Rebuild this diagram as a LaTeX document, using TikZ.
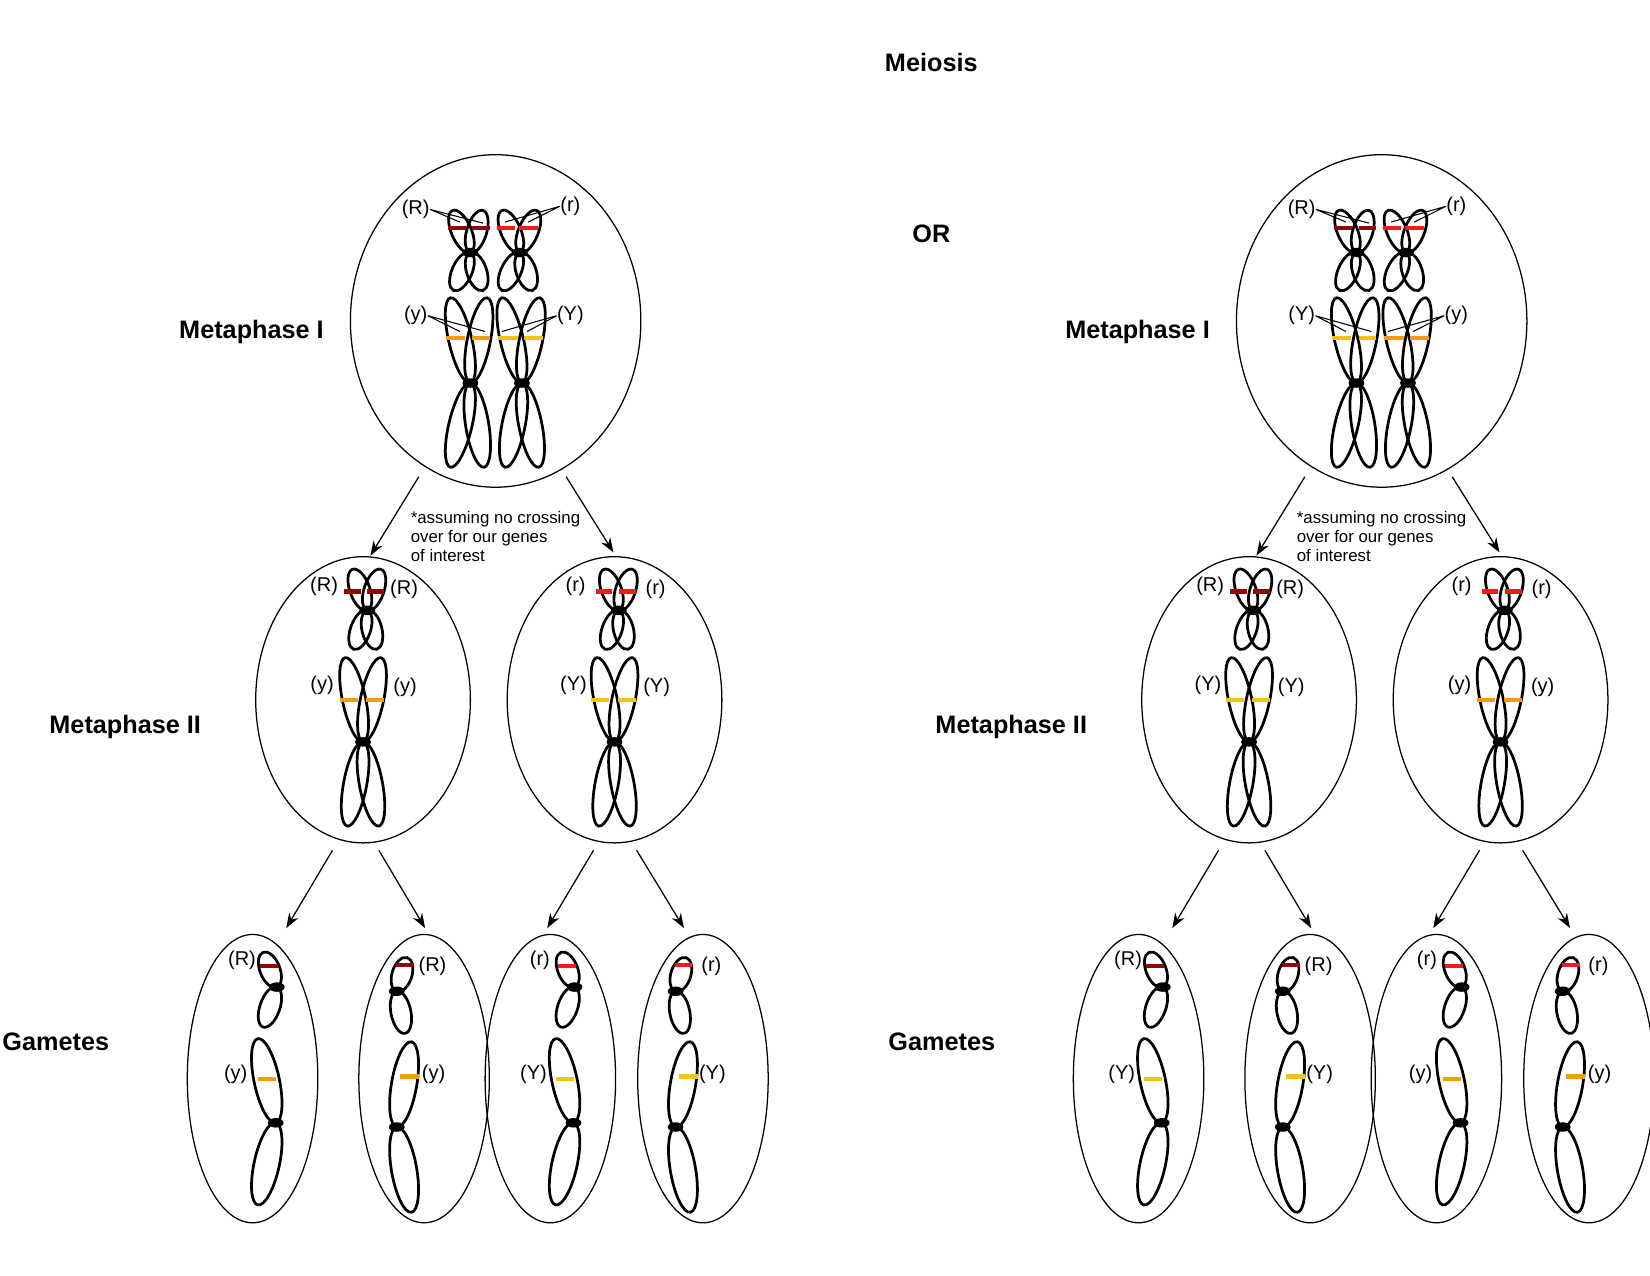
\documentclass[tikz,border=0pt]{standalone}
\usepackage{fontspec}
\setmainfont{Liberation Sans}
\usetikzlibrary{calc,shapes.geometric,arrows.meta}
\definecolor{cR}{HTML}{8B0A0A}
\definecolor{cr}{HTML}{EE1C1C}
\definecolor{cy}{HTML}{F39C12}
\definecolor{cY}{HTML}{F2C311}
\tikzset{
  chrom/.style={draw,ellipse,line width=1.3pt,inner sep=0pt},
  cell/.style={draw,ellipse,line width=0.6pt,inner sep=0pt},
  cen/.style={fill=black,ellipse,inner sep=0pt,minimum width=7.5pt,minimum height=4.5pt},
  band/.style={line width=2pt},
  lab/.style={font=\fontsize{9.5}{11}\selectfont,inner sep=0pt},
  ttl/.style={font=\fontsize{12}{14}\selectfont\bfseries},
  ptr/.style={line width=0.5pt},
  arr/.style={line width=0.6pt,-{Stealth[length=7pt,width=5pt]}},
  note/.style={font=\fontsize{8}{9.2}\selectfont,align=left,anchor=north west,inner sep=0pt}
}
\newcommand\arm[3]{\path let \p1=#1,\p2=#2,\n1={atan2(\y2-\y1,\x2-\x1)},\n2={veclen(\x2-\x1,\y2-\y1)} in ($#1!0.5!#2$) node[chrom,minimum width=\n2,minimum height=#3,rotate=\n1]{};}
% Metaphase I content
\newcommand\mone[5]{% dx, bigleftcol, biglab left, bigrightcol, biglab right
\begin{scope}[shift={(#1,0)}]
 \arm{(430,200)}{(447,240)}{9.5pt}\arm{(459,200)}{(447,240)}{9.5pt}
 \arm{(431,276)}{(447,240)}{9.5pt}\arm{(459,276)}{(447,240)}{9.5pt}
 \arm{(477,200)}{(494,240)}{9.5pt}\arm{(510,200)}{(494,240)}{9.5pt}
 \arm{(477,276)}{(494,240)}{9.5pt}\arm{(506,276)}{(494,240)}{9.5pt}
 \node[cen] at (447,240){};\node[cen] at (494,240){};
 \draw[band,cR] (426,217)--(443,217) (449,217)--(466,217);
 \draw[band,cr] (472,217)--(489,217) (493,217)--(511,217);
 \node[lab] (Rl) at (395,199){(R)};\node[lab] (rl) at (542,196){(r)};
 \draw[ptr] (Rl.east)--(437,211) (Rl.east)--(459,212);
 \draw[ptr] (rl.west)--(480,211) (rl.west)--(502,211);
 \arm{(428,283)}{(447,364)}{11pt}\arm{(463,283)}{(447,364)}{11pt}
 \arm{(428,444)}{(447,364)}{11pt}\arm{(460,444)}{(447,364)}{11pt}
 \arm{(477,283)}{(496,364)}{11pt}\arm{(513,283)}{(496,364)}{11pt}
 \arm{(480,444)}{(496,364)}{11pt}\arm{(512,444)}{(496,364)}{11pt}
 \node[cen] at (447,364){};\node[cen] at (496,364){};
 \draw[band,#2] (424,321)--(442,321) (449,321)--(466,321);
 \draw[band,#4] (473,321)--(492,321) (498,321)--(516,321);
 \node[lab] (yl) at (395,300){#3};\node[lab] (Yl) at (542,300){#5};
 \draw[ptr] (yl.east)--(437,315) (yl.east)--(461,315);
 \draw[ptr] (Yl.west)--(477,315) (Yl.west)--(501,315);
\end{scope}}
% Metaphase II content
\newcommand\mtwo[5]{% cx, small col, small lab, big col, big lab
\begin{scope}[shift={(#1,0)}]
 \arm{(-10,541)}{(4,580)}{9.5pt}\arm{(17,541)}{(4,580)}{9.5pt}
 \arm{(-9,617)}{(4,580)}{9.5pt}\arm{(13,617)}{(4,580)}{9.5pt}
 \node[cen] at (4,580){};
 \draw[band,#2] (-18,562)--(-2,562) (4,562)--(20,562);
 \node[lab] at (-37,557){#3};\node[lab] at (39,560){#3};
 \arm{(-17,625)}{(0,705)}{11pt}\arm{(17,625)}{(0,705)}{11pt}
 \arm{(-15,785)}{(0,705)}{11pt}\arm{(15,785)}{(0,705)}{11pt}
 \node[cen] at (0,705){};
 \draw[band,#4] (-22,665)--(-5,665) (3,665)--(20,665);
 \node[lab] at (-39,651){#5};\node[lab] at (40,653){#5};
\end{scope}}
\newcommand\gamA[5]{%
\begin{scope}[shift={(#1,0)}]
 \arm{(10,905)}{(23,938)}{9.5pt}\arm{(10,976)}{(23,938)}{9.5pt}
 \node[cen] at (23,938){};
 \draw[band,#2] (7,918)--(24,918);
 \node[lab] at (-10,913){#3};
 \arm{(5,987)}{(22,1067)}{12pt}\arm{(5,1145)}{(22,1067)}{12pt}
 \node[cen] at (22,1067){};
 \draw[band,#4] (5,1025)--(22,1025);
 \node[lab] at (-16,1021){#5};
\end{scope}}
\newcommand\gamB[5]{%
\begin{scope}[shift={(#1,0)}]
 \arm{(-16,910)}{(-26,942)}{9.5pt}\arm{(-18,982)}{(-26,942)}{9.5pt}
 \node[cen] at (-26,942){};
 \draw[band,#2] (-27,917)--(-10,917);
 \node[lab] at (8,918){#3};
 \arm{(-12,990)}{(-26,1071)}{12pt}\arm{(-12,1152)}{(-26,1071)}{12pt}
 \node[cen] at (-26,1071){};
 \draw[band,#4] (-23,1023)--(-5,1023);
 \node[lab] at (9,1021){#5};
\end{scope}}
\begin{document}
\begin{tikzpicture}[x=0.5pt,y=-0.5pt]
\useasboundingbox (0,0) rectangle (1568,1212);
\node[ttl] (title) at (885,59){Meiosis};
\node[ttl] (or) at (885,222){OR};
\foreach \s/\d in {L/0,R/842}{
 \begin{scope}[shift={(\d,0)}]
 \node[cell,minimum width=138pt,minimum height=158pt] (m1\s) at (471,305){};
 \node[ttl] (t1\s) at (239,315){Metaphase I};
 \node[ttl] (t2\s) at (119,691){Metaphase II};
 \node[ttl] (t3\s) at (53,990){Gametes};
 \node[note] (n\s) at (390,485){*assuming no crossing\\over for our genes\\of interest};
 \node[cell,minimum width=102pt,minimum height=136pt] (a\s) at (345,665){};
 \node[cell,minimum width=102pt,minimum height=136pt] (b\s) at (584,665){};
 \foreach \g/\x in {1/240,2/403,3/523,4/668}
   \node[cell,minimum width=62pt,minimum height=137pt] (g\s\g) at (\x,1025){};
 \coordinate (p1\s) at (398,453);\coordinate (q1\s) at (352,528);
 \coordinate (p2\s) at (538,453);\coordinate (q2\s) at (583,525);
 \coordinate (p3\s) at (316,808);\coordinate (q3\s) at (272,882);
 \coordinate (p4\s) at (360,808);\coordinate (q4\s) at (404,882);
 \coordinate (p5\s) at (564,808);\coordinate (q5\s) at (520,882);
 \coordinate (p6\s) at (605,808);\coordinate (q6\s) at (650,882);
 \foreach \k in {1,...,6} \draw[arr] (p\k\s)--(q\k\s);
 \end{scope}}
\mone{0}{cy}{(y)}{cY}{(Y)}
\mone{842}{cY}{(Y)}{cy}{(y)}
\mtwo{345}{cR}{(R)}{cy}{(y)}
\mtwo{584}{cr}{(r)}{cY}{(Y)}
\mtwo{1187}{cR}{(R)}{cY}{(Y)}
\mtwo{1426}{cr}{(r)}{cy}{(y)}
\gamA{240}{cR}{(R)}{cy}{(y)}
\gamB{403}{cR}{(R)}{cy}{(y)}
\gamA{523}{cr}{(r)}{cY}{(Y)}
\gamB{668}{cr}{(r)}{cY}{(Y)}
\gamA{1082}{cR}{(R)}{cY}{(Y)}
\gamB{1245}{cR}{(R)}{cY}{(Y)}
\gamA{1366}{cr}{(r)}{cy}{(y)}
\gamB{1511}{cr}{(r)}{cy}{(y)}
\end{tikzpicture}
\end{document}
